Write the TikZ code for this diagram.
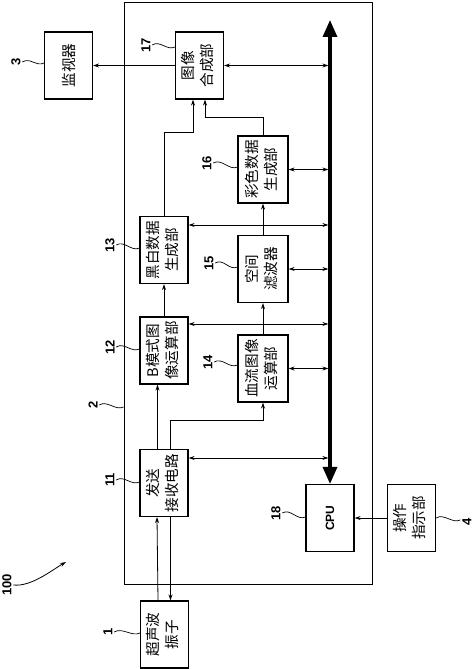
\documentclass[tikz,border=0pt]{standalone}
\usepackage{fontspec}
\setmainfont{Liberation Sans}
\newfontfamily\cjk{Noto Sans CJK SC}
\usetikzlibrary{arrows.meta,calc}
\newcommand\vtxt[2]{\rotatebox{90}{\cjk\fontsize{14.6}{19}\selectfont\begin{tabular}{@{}c@{}}#1\\#2\end{tabular}}}
\newcommand\vone[1]{\rotatebox{90}{\cjk\fontsize{14.6}{19}\selectfont #1}}
\newcommand\lbl[1]{\rotatebox{90}{\fontsize{13}{13}\selectfont\bfseries #1}}
\begin{document}
\begin{tikzpicture}[x=1pt,y=-1pt,
  box/.style={draw,line width=1.1pt,minimum width=48pt,minimum height=67pt,inner sep=0pt},
  frame/.style={draw,line width=0.9pt,minimum width=248pt,minimum height=582pt,inner sep=0pt},
  tag/.style={inner sep=0pt},
  arr/.style={line width=0.8pt,-{Stealth[length=6pt,width=4pt]}},
  darr/.style={line width=0.8pt,{Stealth[length=6pt,width=4pt]}-{Stealth[length=6pt,width=4pt]},shorten >=1.6pt},
  bus/.style={line width=3.3pt,{Triangle[length=17pt,width=14pt]}-{Triangle[length=17pt,width=14pt]}},
  lead/.style={line width=0.7pt}]
\useasboundingbox (0,0) rectangle (474,669);

% main frame
\node[frame] (n2) at (248,293) {};

% boxes
\node[box] (n3)  at (68.5,65.5) {\vone{监视器}};
\node[box] (n17) at (199.5,65.5) {\vtxt{图像}{合成部}};
\node[box,minimum width=50pt] (n16) at (263,169.5) {\vtxt{彩色数据}{生成部}};
\node[box] (n13) at (164,250) {\vtxt{黑白数据}{生成部}};
\node[box,minimum width=50pt] (n15) at (263,269) {\vtxt{空间}{滤波器}};
\node[box] (n12) at (164,350.5) {\vtxt{B模式图}{像运算部}};
\node[box,minimum width=50pt] (n14) at (263,368.5) {\vtxt{血流图像}{运算部}};
\node[box] (n11) at (164,483) {\vtxt{发送}{接收电路}};
\node[box] (n1)  at (164.5,634.5) {\vtxt{超声波}{振子}};
\node[box] (n18) at (330,518) {\rotatebox{90}{\fontsize{12}{12}\selectfont\bfseries CPU}};
\node[box] (n4)  at (411.5,518) {\vtxt{操作}{指示部}};

% bus
\coordinate (bustop) at (330,20);
\draw[bus] (bustop) -- (n18.north);

% data connectors
\draw[arr] (n17) -- (n3);
\draw[arr] (n13.north) -- ++(0,-84) -| ([xshift=-6.5pt]n17.south);
\draw[arr] (n16.north) -- ++(0,-18) -| ([xshift=5.5pt]n17.south);
\draw[arr] (n15.north) -- (n16.south);
\draw[arr] (n14.north) -- (n15.south);
\draw[arr] (n12.north) -- (n13.south);
\draw[arr] ([xshift=-6.5pt]n11.north) -- ([xshift=-6.5pt]n12.south);
\draw[arr] ([xshift=6.5pt]n11.north) -- ++(0,-29) -| (n14.south);
\draw[arr] ([xshift=-6.5pt]n1.north) -- ([xshift=-7pt]n11.south);
\draw[arr] ([xshift=6.5pt]n11.south) -- ([xshift=6pt]n1.north);
\draw[arr] (n4) -- (n18);

% bus taps
\draw[darr] (n17.east) -- (n17.east -| bustop);
\draw[darr] (n16.east) -- (n16.east -| bustop);
\draw[darr] ([yshift=25pt]n13.east) -- ([yshift=25pt]n13.east -| bustop);
\draw[darr] (n15.east) -- (n15.east -| bustop);
\draw[darr] ([yshift=26.5pt]n12.east) -- ([yshift=26.5pt]n12.east -| bustop);
\draw[darr] (n14.east) -- (n14.east -| bustop);
\draw[darr] ([yshift=25pt]n11.east) -- ([yshift=25pt]n11.east -| bustop);

% reference labels
\node[tag] (l3)  at (16,62)  {\lbl{3}};
\node[tag] (l17) at (146,45) {\lbl{17}};
\node[tag] (l16) at (207,163) {\lbl{16}};
\node[tag] (l13) at (110,245) {\lbl{13}};
\node[tag] (l15) at (209,263) {\lbl{15}};
\node[tag] (l12) at (110,347) {\lbl{12}};
\node[tag] (l14) at (208,362) {\lbl{14}};
\node[tag] (l2)  at (93,405) {\lbl{2}};
\node[tag] (l11) at (110,480) {\lbl{11}};
\node[tag] (l1)  at (108,632) {\lbl{1}};
\node[tag] (l18) at (276,513) {\lbl{18}};
\node[tag] (l4)  at (467,522) {\lbl{4}};
\node[tag] (l100) at (7,585) {\lbl{100}};

\draw[lead] ([xshift=1.5pt]l3.east) .. controls +(8,-5) and +(-8,4) .. ([yshift=-1pt]l3 -| n3.west);
\draw[lead] ([xshift=1.5pt]l17.east) .. controls +(8,-5) and +(-8,4) .. ([yshift=-2pt]l17 -| n17.west);
\draw[lead] ([xshift=1.5pt]l16.east) .. controls +(8,-5) and +(-8,4) .. ([yshift=-4pt]l16 -| n16.west);
\draw[lead] ([xshift=1.5pt]l13.east) .. controls +(8,-5) and +(-8,4) .. ([yshift=-3pt]l13 -| n13.west);
\draw[lead] ([xshift=1.5pt]l15.east) .. controls +(8,-5) and +(-8,4) .. ([yshift=-4pt]l15 -| n15.west);
\draw[lead] ([xshift=1.5pt]l12.east) .. controls +(8,-5) and +(-8,4) .. ([yshift=-2pt]l12 -| n12.west);
\draw[lead] ([xshift=1.5pt]l14.east) .. controls +(8,-5) and +(-8,4) .. ([yshift=-3pt]l14 -| n14.west);
\draw[lead] ([xshift=1.5pt]l2.east) .. controls +(8,-5) and +(-8,4) .. ([yshift=-2pt]l2 -| n2.west);
\draw[lead] ([xshift=1.5pt]l11.east) .. controls +(8,-5) and +(-8,4) .. ([yshift=-2pt]l11 -| n11.west);
\draw[lead] ([xshift=1.5pt]l1.east) .. controls +(8,-5) and +(-8,4) .. ([yshift=-1pt]l1 -| n1.west);
\draw[lead] ([xshift=1.5pt]l18.east) .. controls +(8,-5) and +(-8,4) .. ([yshift=-4pt]l18 -| n18.west);
\draw[lead] (n4.east) .. controls +(8,-5) and +(-8,4) .. ([xshift=-2pt,yshift=-2pt]l4.west |- n4.east);
\coordinate (a100) at (66,562);
\draw[arr] ([xshift=1.5pt]l100.east) .. controls +(18,2) and +(-14,8) .. (a100);
\end{tikzpicture}
\end{document}
